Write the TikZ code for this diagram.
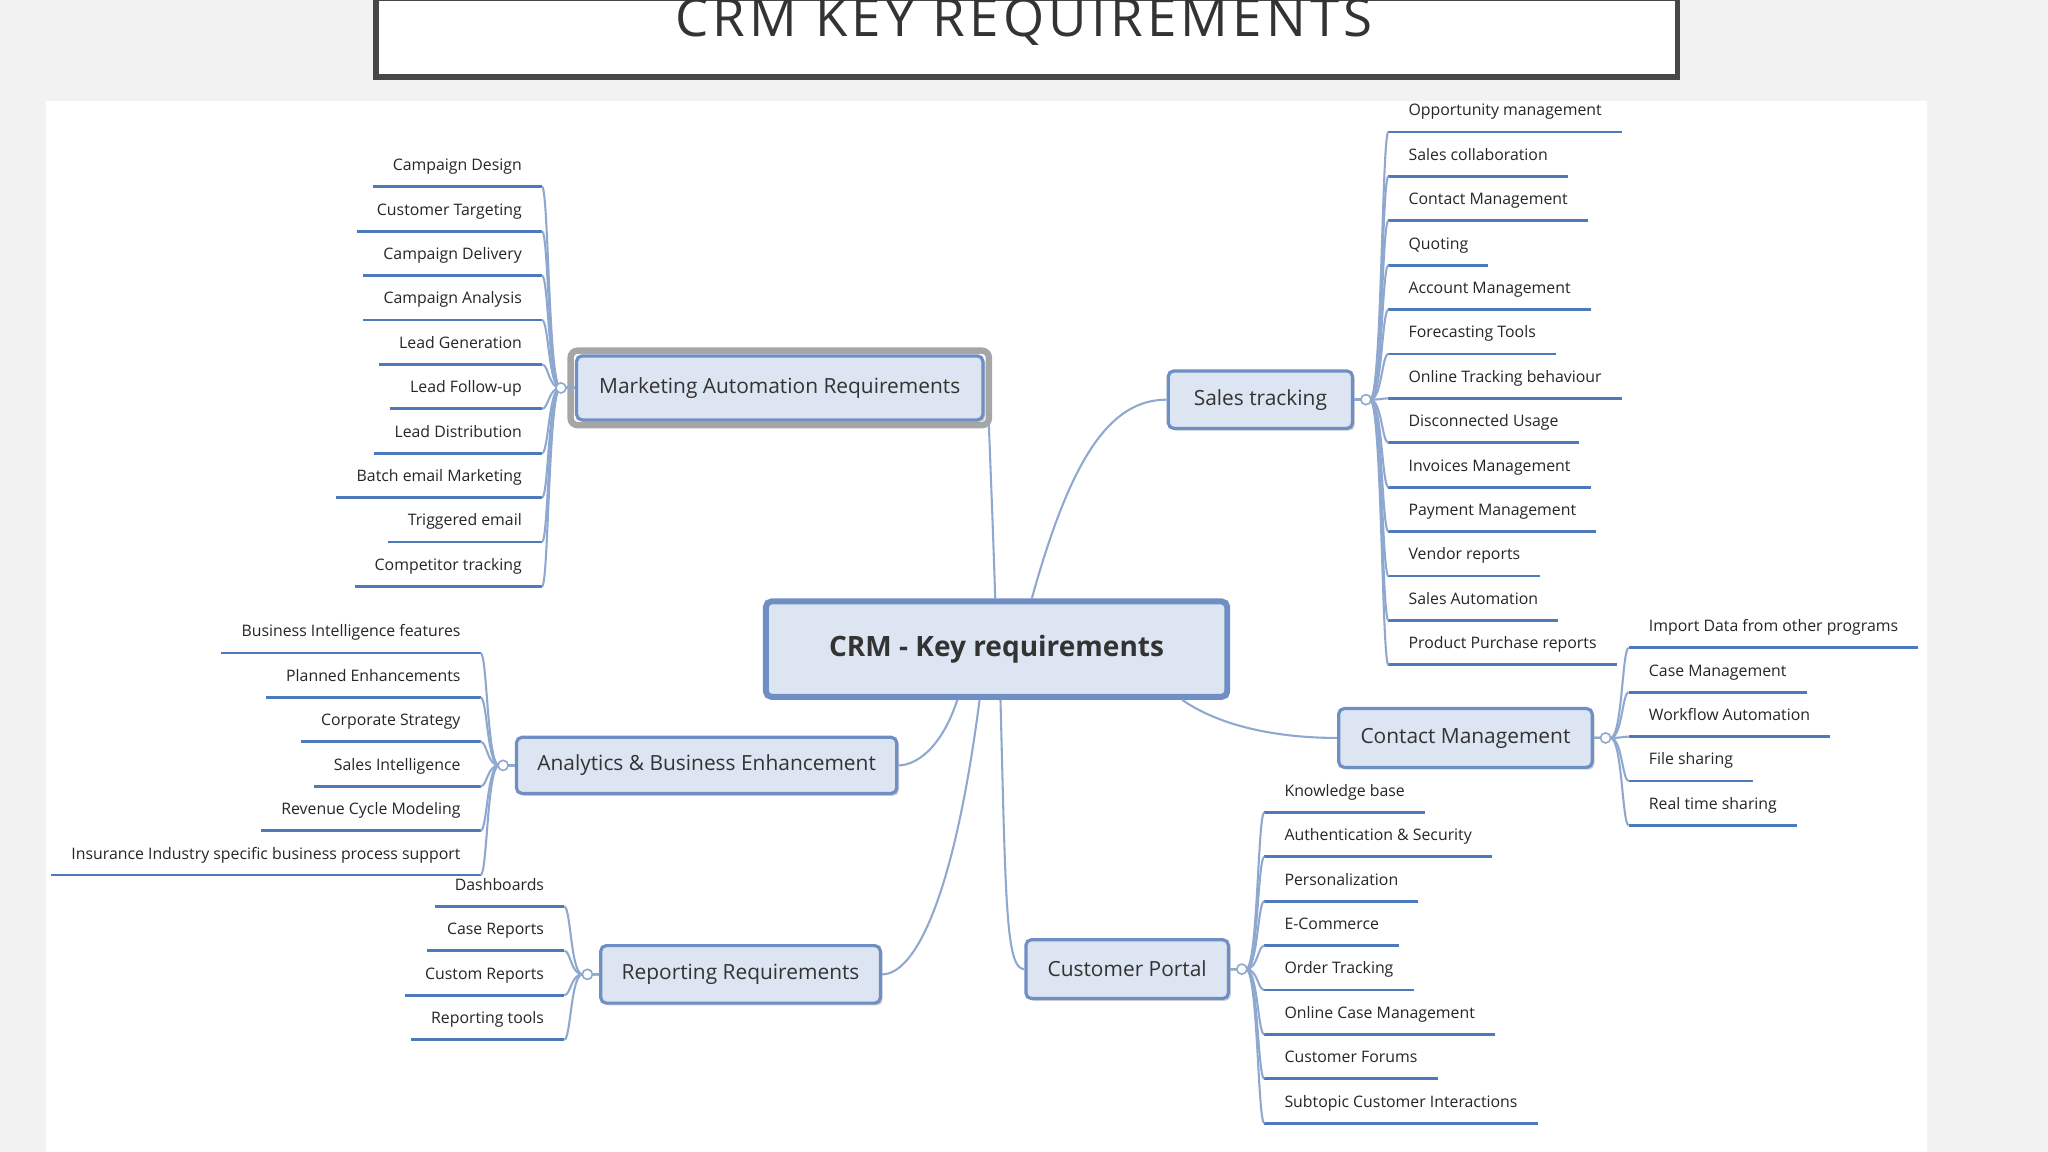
\documentclass[tikz,border=0pt]{standalone}
\usepackage{fontspec}
\setmainfont{Open Sans}
\newfontfamily\titlefont[LetterSpace=8]{Open Sans}
\usetikzlibrary{calc,shadows}
\definecolor{bgc}{HTML}{F2F2F2}
\definecolor{leafc}{HTML}{4F79BD}
\definecolor{connc}{HTML}{8FA8CF}
\definecolor{nfill}{HTML}{DCE5F1}
\definecolor{nbord}{HTML}{6F8FC4}
\definecolor{ttxt}{HTML}{333333}
\tikzset{
 leaf/.style={font=\fontsize{3.45pt}{4pt}\selectfont, text=black!85, inner xsep=4.2pt, inner ysep=2.5pt, text height=2.6pt, text depth=0.8pt,
   append after command={\pgfextra{\draw[leafc,line width=0.6pt] (\tikzlastnode.south west) -- (\tikzlastnode.south east);}}},
 conn/.style={connc,line width=0.45pt},
 topic/.style={draw=nbord, fill=nfill, rounded corners=1.2pt, line width=0.7pt, inner sep=0pt, font=\fontsize{4.55pt}{5pt}\selectfont, text=ttxt, drop shadow={shadow xshift=0.5pt,shadow yshift=-0.5pt,opacity=0.35}},
 knob/.style={circle, draw=connc, fill=white, inner sep=0pt, minimum size=2.2pt, line width=0.35pt}
}
\newcommand\leafL[5]{\node[leaf,anchor=south east] (#1) at (#3,{-(#4+13)}) {#5};
 \draw[conn] (#2.west) -- ($(#1.south east |- #2.west)+(14,0)$) .. controls ($(#1.south east |- #2.west)+(5,0)$) and ($(#1.south east)+(5,0)$) .. (#1.south east);}
\newcommand\leafR[5]{\node[leaf,anchor=south west] (#1) at (#3,{-(#4+13)}) {#5};
 \draw[conn] (#2.east) -- ($(#1.south west |- #2.east)+(-14,0)$) .. controls ($(#1.south west |- #2.east)+(-5,0)$) and ($(#1.south west)+(-5,0)$) .. (#1.south west);}
\begin{document}
\begin{tikzpicture}[x=0.01cm,y=0.01cm]
\fill[bgc] (0,0) rectangle (1568,-882);
\useasboundingbox (0,0) rectangle (1568,-882);
\fill[white] (35,-77) rectangle (1475,-882);
\begin{scope}
\clip (0,0) rectangle (1568,-882);
\node[draw=ttxt!90, line width=1.2pt, fill=white, minimum width=9.96cm, minimum height=0.6cm, inner sep=0pt] (title) at (786,-29) {};
\node[font=\titlefont\fontsize{11.5pt}{12pt}\selectfont, text=ttxt] (ttl) at (784,-17) {CRM KEY REQUIREMENTS};
\end{scope}
% topics
\node[topic, minimum width=3.53cm, minimum height=0.73cm, line width=1.3pt, font=\bfseries\fontsize{6.1pt}{7pt}\selectfont] (crm) at (763,-497) {CRM - Key requirements};
\node[draw=gray!70, line width=1.4pt, rounded corners=1.5pt, minimum width=3.2cm, minimum height=0.57cm] (sel) at (597,-297) {};
\node[topic, minimum width=3.11cm, minimum height=0.49cm] (mar) at (597,-297) {Marketing Automation Requirements};
\node[topic, minimum width=1.41cm, minimum height=0.44cm] (sal) at (965,-306) {Sales tracking};
\node[topic, minimum width=1.94cm, minimum height=0.45cm] (con) at (1122,-565) {Contact Management};
\node[topic, minimum width=2.91cm, minimum height=0.43cm] (ana) at (541,-586) {Analytics \& Business Enhancement};
\node[topic, minimum width=2.14cm, minimum height=0.44cm] (rep) at (567,-746) {Reporting Requirements};
\node[topic, minimum width=1.55cm, minimum height=0.45cm] (cus) at (863,-742) {Customer Portal};
% central connectors
\draw[conn] (crm.north -| 762,0) .. controls (760,-400) .. (mar.south -| 757,0);
\draw[conn] (crm.north -| 790,0) .. controls (820,-350) and (850,-306) .. (sal.west);
\draw[conn] (crm.south -| 905,0) .. controls (940,-560) and (990,-565) .. (con.west);
\draw[conn] (crm.south -| 733,0) .. controls (720,-575) and (700,-586) .. (ana.east);
\draw[conn] (crm.south -| 750,0) .. controls (730,-690) and (700,-746) .. (rep.east);
\draw[conn] (crm.south -| 766,0) .. controls (770,-690) and (770,-742) .. (cus.west);
% marketing
\leafL{m1}{mar}{415}{130}{Campaign Design}
\leafL{m2}{mar}{415}{164}{Customer Targeting}
\leafL{m3}{mar}{415}{198}{Campaign Delivery}
\leafL{m4}{mar}{415}{232}{Campaign Analysis}
\leafL{m5}{mar}{415}{266}{Lead Generation}
\leafL{m6}{mar}{415}{300}{Lead Follow-up}
\leafL{m7}{mar}{415}{334}{Lead Distribution}
\leafL{m8}{mar}{415}{368}{Batch email Marketing}
\leafL{m9}{mar}{415}{402}{Triggered email}
\leafL{m10}{mar}{415}{436}{Competitor tracking}
% sales
\leafR{s1}{sal}{1063}{88}{Opportunity management}
\leafR{s2}{sal}{1063}{122}{Sales collaboration}
\leafR{s3}{sal}{1063}{156}{Contact Management}
\leafR{s4}{sal}{1063}{190}{Quoting}
\leafR{s5}{sal}{1063}{224}{Account Management}
\leafR{s6}{sal}{1063}{258}{Forecasting Tools}
\leafR{s7}{sal}{1063}{292}{Online Tracking behaviour}
\leafR{s8}{sal}{1063}{326}{Disconnected Usage}
\leafR{s9}{sal}{1063}{360}{Invoices Management}
\leafR{s10}{sal}{1063}{394}{Payment Management}
\leafR{s11}{sal}{1063}{428}{Vendor reports}
\leafR{s12}{sal}{1063}{462}{Sales Automation}
\leafR{s13}{sal}{1063}{496}{Product Purchase reports}
% contact
\leafR{c1}{con}{1247}{483}{Import Data from other programs}
\leafR{c2}{con}{1247}{517}{Case Management}
\leafR{c3}{con}{1247}{551}{Workflow Automation}
\leafR{c4}{con}{1247}{585}{File sharing}
\leafR{c5}{con}{1247}{619}{Real time sharing}
% analytics
\leafL{a1}{ana}{368}{487}{Business Intelligence features}
\leafL{a2}{ana}{368}{521}{Planned Enhancements}
\leafL{a3}{ana}{368}{555}{Corporate Strategy}
\leafL{a4}{ana}{368}{589}{Sales Intelligence}
\leafL{a5}{ana}{368}{623}{Revenue Cycle Modeling}
\leafL{a6}{ana}{368}{657}{Insurance Industry specific business process support}
% reporting
\leafL{r1}{rep}{432}{681}{Dashboards}
\leafL{r2}{rep}{432}{715}{Case Reports}
\leafL{r3}{rep}{432}{749}{Custom Reports}
\leafL{r4}{rep}{432}{783}{Reporting tools}
% customer portal
\leafR{p1}{cus}{968}{609}{Knowledge base}
\leafR{p2}{cus}{968}{643}{Authentication \& Security}
\leafR{p3}{cus}{968}{677}{Personalization}
\leafR{p4}{cus}{968}{711}{E-Commerce}
\leafR{p5}{cus}{968}{745}{Order Tracking}
\leafR{p6}{cus}{968}{779}{Online Case Management}
\leafR{p7}{cus}{968}{813}{Customer Forums}
\leafR{p8}{cus}{968}{847}{Subtopic Customer Interactions}
% knobs
\node[knob] (k1) at ($(sel.west)+(-5,0)$) {};
\node[knob] (k2) at ($(sal.east)+(9,0)$) {};
\node[knob] (k3) at ($(con.east)+(9,0)$) {};
\node[knob] (k4) at ($(ana.west)+(-9,0)$) {};
\node[knob] (k5) at ($(rep.west)+(-9,0)$) {};
\node[knob] (k6) at ($(cus.east)+(9,0)$) {};
\end{tikzpicture}
\end{document}
